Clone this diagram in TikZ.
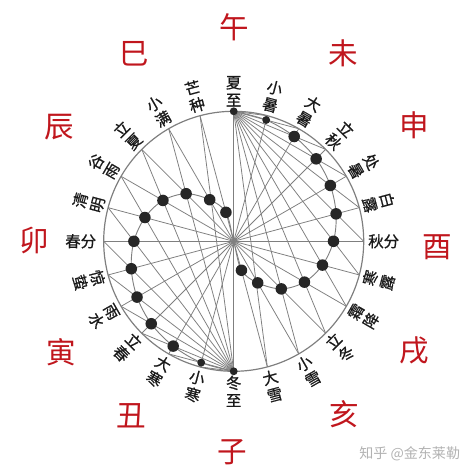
\documentclass[tikz,border=0pt]{standalone}
\usepackage{fontspec}
\newfontfamily\cjk{Noto Sans CJK SC}
\newfontfamily\cjkterm[FakeBold=0.8]{Noto Sans CJK SC}
\definecolor{branchred}{HTML}{C0161D}
\definecolor{linegray}{HTML}{7F7F7F}
\definecolor{dotblack}{HTML}{262626}

\begin{document}
\begin{tikzpicture}[x=0.025cm, y=0.025cm,
	term/.style={font=\cjkterm\fontsize{11}{12.5}\selectfont, text=black!90, align=center, inner sep=0pt},
	branch/.style={font=\cjk\fontsize{21}{21}\selectfont, text=branchred, inner sep=0pt},
	guide/.style={draw=linegray, line width=0.55pt},
	bigdot/.style={circle, fill=dotblack, inner sep=0pt, minimum size=8.2pt},
	smalldot/.style={circle, fill=dotblack, inner sep=0pt, minimum size=5.6pt}]

\def\rad{130}
\def\termr{150}

\useasboundingbox (-233.7,-232.7) rectangle (240.3,241.3);

% rim points, P0 = xiazhi (top), P12 = dongzhi (bottom)
\coordinate (O) at (0,0);
\foreach \i in {0,...,23}
	\coordinate (P\i) at ({90-15*\i}:\rad);

% diameters
\foreach \i in {0,...,11} {
	\pgfmathtruncatemacro\j{\i+12}
	\draw [guide] (P\i) -- (P\j);
}

% fans from xiazhi and dongzhi
\foreach \i in {1,...,11}
	\draw [guide] (P0) -- (P\i);
\foreach \i in {13,...,23}
	\draw [guide] (P12) -- (P\i);

% rim
\draw [linegray, line width=0.85pt] (O) circle (\rad);

% shadow points
\foreach \i/\r in {1/125.6, 2/121, 3/116.6, 4/111.6, 5/106, 6/99.8, 7/91.9, 8/81.7, 9/67.3, 10/48, 11/30} {
	\pgfmathtruncatemacro\j{\i+12}
	\coordinate (c\i) at ({90-15*\i}:\r);
	\coordinate (c\j) at ({270-15*\i}:\r);
}
\draw [guide, line width=0.65pt] plot [smooth, tension=0.55] coordinates {(P0) (c1) (c2) (c3) (c4) (c5) (c6) (c7) (c8) (c9) (c10) (c11) (O) (c23) (c22) (c21) (c20) (c19) (c18) (c17) (c16) (c15) (c14) (c13) (P12)};

\node [smalldot] (d0) at (P0) {};
\node [smalldot] (d12) at (P12) {};
\node [smalldot] (d1) at (c1) {};
\node [smalldot] (d13) at (c13) {};
\foreach \i in {2,3,4,5,6,7,8,9,10,11,14,15,16,17,18,19,20,21,22,23}
	\node [bigdot] (d\i) at (c\i) {};

% solar terms
\foreach \i/\txt/\rot in {0/夏\\至/0, 1/小\\暑/-15, 2/大\\暑/-30, 3/立\\秋/-45, 4/处\\暑/-60, 5/白\\露/-75,
		7/寒\\露/75, 8/霜\\降/60, 9/立\\冬/45, 10/小\\雪/30, 11/大\\雪/15, 12/冬\\至/0,
		13/小\\寒/-15, 14/大\\寒/-30, 15/立\\春/-45, 16/雨\\水/-60, 17/惊\\蛰/-75,
		19/清\\明/75, 20/谷\\雨/60, 21/立\\夏/45, 22/小\\满/30, 23/芒\\种/15}
	\node [term, rotate=\rot] (t\i) at ({90-15*\i}:\termr) {\txt};
\node [term] (t6) at (0:150) {秋分};
\node [term] (t18) at (180:153) {春分};

% earthly branches
\foreach \i/\ch/\bx/\by in {0/午/1/214, 1/未/110/188, 2/申/181/116, 3/酉/204/-6, 4/戌/181/-109, 5/亥/111/-173,
		6/子/-1/-211, 7/丑/-102/-174, 8/寅/-172/-111, 9/卯/-199/1, 10/辰/-174/114, 11/巳/-99/188}
	\node [branch] (b\i) at (\bx,\by) {\ch};

% watermark
\node [font=\cjk\fontsize{10}{10}\selectfont, text=black!30] (mark) at (176,-212) {知乎 @金东莱勒};

\end{tikzpicture}
\end{document}
